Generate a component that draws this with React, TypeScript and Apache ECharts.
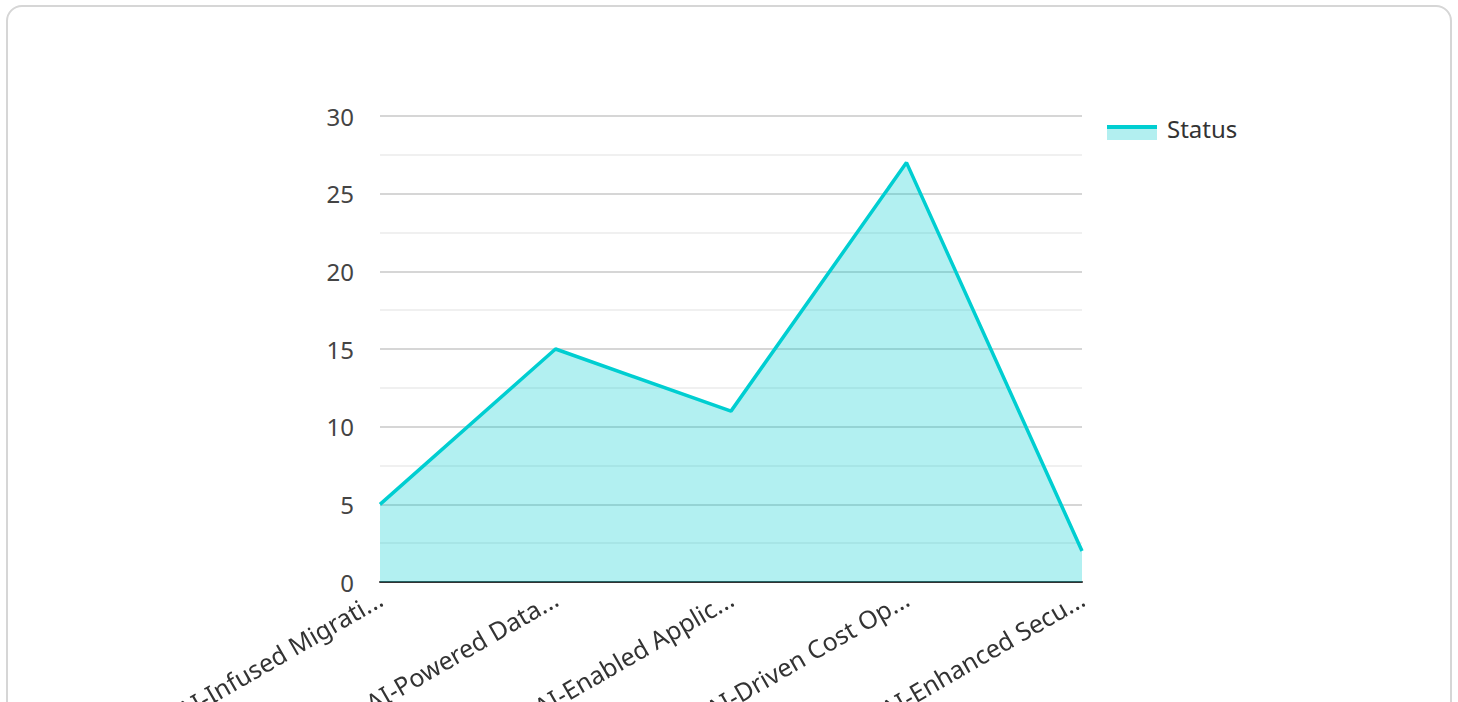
import React, { useEffect, useRef } from "react";
import * as echarts from "echarts";

const categories = [
  "AI-Infused Migration Strategy",
  "AI-Powered DataOps Platform",
  "AI-Enabled Application Modernization",
  "AI-Driven Cost Optimization",
  "AI-Enhanced Security Operations",
];
const statusValues = [5, 15, 11, 27, 2];
const seriesName = "Status";

export default function App() {
  const ref = useRef<HTMLDivElement>(null);
  useEffect(() => {
    document.documentElement.style.overflow = "hidden";
    const chart = echarts.init(ref.current!, null, { renderer: "svg" });
    chart.setOption({
      animation: false,
      textStyle: { fontFamily: "Noto Sans" },
      legend: {
        data: [seriesName],
        icon: "rect",
        left: 1094,
        top: 104,
        itemWidth: 50,
        itemHeight: 24,
        itemGap: 10,
        itemStyle: {
          borderWidth: 0,
          color: new echarts.graphic.LinearGradient(0, 0, 0, 1, [
            { offset: 0, color: "rgba(255,255,255,0)" },
            { offset: 0.375, color: "rgba(255,255,255,0)" },
            { offset: 0.375, color: "#00CED1" },
            { offset: 0.54, color: "#00CED1" },
            { offset: 0.54, color: "#B2EFF0" },
            { offset: 1, color: "#B2EFF0" },
          ]),
        },
        textStyle: {
          fontSize: 24,
          color: "#333",
          fontFamily: "Noto Sans",
          padding: [0, 0, 0, 5],
        },
      },
      grid: { left: 372, top: 109, width: 702, height: 466, containLabel: false },
      xAxis: {
        type: "category",
        boundaryGap: false,
        data: categories,
        axisLine: { show: true, lineStyle: { color: "#333", width: 2 } },
        axisTick: { show: false },
        axisLabel: {
          rotate: 30,
          fontSize: 25,
          color: "#333",
          margin: 14,
          interval: 0,
          width: 237,
          overflow: "truncate",
          fontFamily: "Noto Sans",
        },
      },
      yAxis: {
        type: "value",
        min: 0,
        max: 30,
        interval: 5,
        axisLine: { show: false },
        axisTick: { show: false },
        axisLabel: { fontSize: 24, color: "#444", margin: 26, fontFamily: "Noto Sans" },
        splitLine: { show: true, lineStyle: { color: "#c8c8c8", width: 1.5 } },
        minorTick: { show: false, splitNumber: 2 },
        minorSplitLine: { show: true, lineStyle: { color: "#ebebeb", width: 1.5 } },
      },
      series: [
        {
          name: seriesName,
          type: "line",
          data: statusValues,
          symbol: "none",
          lineStyle: { color: "#00CED1", width: 3.5 },
          itemStyle: { color: "#00CED1" },
          areaStyle: { color: "#00CED1", opacity: 0.3 },
        },
      ],
    });
    return () => chart.dispose();
  }, []);
  return (
    <div style={{ position: "fixed", inset: 0, background: "#fff" }}>
      <div
        style={{
          position: "absolute",
          left: 6,
          top: 5,
          width: 1446,
          height: 780,
          border: "2px solid #d6d6d6",
          borderRadius: 16,
          boxSizing: "border-box",
          overflow: "hidden",
        }}
      >
        <div ref={ref} style={{ position: "absolute", left: 0, top: 0, width: 1442, height: 776 }} />
      </div>
    </div>
  );
}
